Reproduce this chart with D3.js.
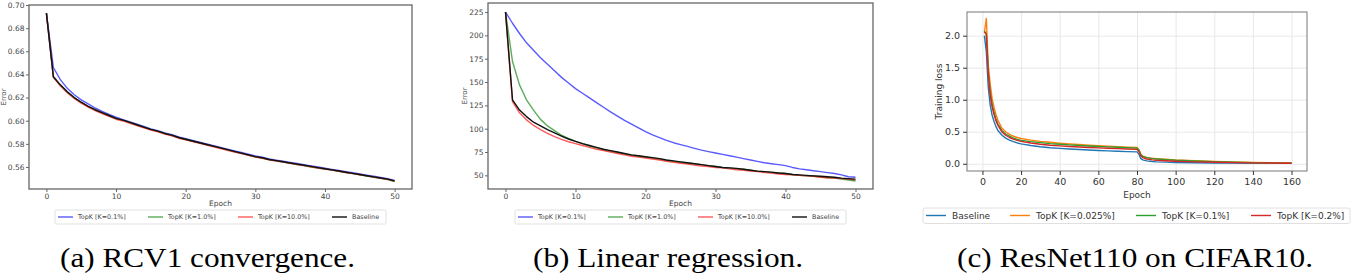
<!DOCTYPE html>
<html>
<head>
<meta charset="utf-8">
<script src="https://cdn.jsdelivr.net/npm/d3@7"></script>
<style>
  body { margin: 0; background: #fff; }
  svg { display: block; }
</style>
</head>
<body>
<div id="viz"></div>
<script>
// ---------- data ----------
// (a) RCV1 convergence, epochs 0..50
let epochsA = d3.range(0, 51);
let topk01A = [0.693,0.646,0.6355,0.628,0.6225,0.618,0.6145,0.611,0.608,0.6055,0.603,0.601,0.599,0.597,0.595,0.593,0.5915,0.5895,0.588,0.586,0.5845,0.583,0.5815,0.58,0.5785,0.577,0.5755,0.574,0.5725,0.571,0.5695,0.5685,0.567,0.566,0.565,0.564,0.563,0.562,0.561,0.56,0.559,0.558,0.557,0.556,0.555,0.554,0.553,0.552,0.551,0.55,0.5485];
let topk1A = [0.693,0.638,0.6308,0.6248,0.6198,0.6158,0.6123,0.6093,0.6068,0.6043,0.6018,0.6003,0.5983,0.5963,0.5943,0.5923,0.5908,0.5888,0.5873,0.5853,0.5838,0.5823,0.5808,0.5793,0.5778,0.5763,0.5748,0.5733,0.5718,0.5703,0.5688,0.5678,0.5663,0.5653,0.5643,0.5633,0.5622,0.5612,0.5600,0.5592,0.5583,0.5573,0.5563,0.5553,0.5543,0.5533,0.5522,0.5512,0.5502,0.5492,0.5475];
let topk10A = [0.693,0.6375,0.6302,0.6242,0.6192,0.6152,0.6117,0.6088,0.6062,0.6038,0.6013,0.5998,0.5978,0.5958,0.5938,0.5919,0.5904,0.5884,0.5869,0.5849,0.5835,0.582,0.5805,0.579,0.5775,0.576,0.5745,0.573,0.5716,0.5701,0.5687,0.5676,0.5662,0.5652,0.5642,0.5632,0.5622,0.5612,0.5602,0.5592,0.5583,0.5573,0.5563,0.5553,0.5543,0.5533,0.5523,0.5513,0.5503,0.5493,0.5478];
let baselineA = [0.693,0.638,0.631,0.625,0.620,0.616,0.6125,0.6095,0.607,0.6045,0.602,0.6005,0.5985,0.5965,0.5945,0.5925,0.591,0.589,0.5875,0.5855,0.584,0.5825,0.581,0.5795,0.578,0.5765,0.575,0.5735,0.572,0.5705,0.569,0.568,0.5665,0.5655,0.5645,0.5635,0.5625,0.5615,0.5605,0.5595,0.5585,0.5575,0.5565,0.5555,0.5545,0.5535,0.5525,0.5515,0.5505,0.5495,0.548];
let yTicksA = [0.56, 0.58, 0.60, 0.62, 0.64, 0.66, 0.68, 0.70];

// (b) Linear regression, epochs 0..50
let epochsB = d3.range(0, 51);
let topk01B = [225,213,202,192,184,176,169,162,155,149,143,138,133,128,123,118,113.5,109,105,101,97,93.5,90.5,87.5,85,83,81,79,77,75.5,74,72.5,71,69.5,68,66.5,65,63.5,62.5,61.5,60.5,58.5,57,56,55,54,53,52,50.5,48.5,48];
let topk1B = [225,172,147,131,120,110,103,98,93,89.5,86.5,84,81.5,79.5,77.5,76,74.5,73,71.5,70.5,69.5,68.5,67.5,66,65,64,63,62.5,61.5,60.5,59.5,58.5,58,57,56.5,55.5,54.5,54,53,52.5,52,51,50,49.5,49,48.5,47.5,47,46,45,44];
let topk10B = [225,129,117,109.5,103.5,99,95,91.5,88.5,86,84,82,80,78,76.5,75,73.5,72,70.5,69.5,68.5,67.5,66.5,65,64,63,62,61,60,59.5,58.5,58,57,56,55.5,54.5,54,53,52.5,51.5,51,50.5,50,49.5,49,48,47.5,47,46.5,46,45];
let baselineB = [225,131,120,113,107,103,99,95.5,92,89,86.5,84,82,80,78,76.5,75,73.5,72,71,70,69,68,66.5,65.5,64.5,63.5,62.5,61.5,60.5,59.5,58.5,58,57.5,56.5,55.5,54.5,54,53.5,52.5,52,51,50.5,50,49.5,49,48.5,48,47,46.5,46];
let yTicksB = [50, 75, 100, 125, 150, 175, 200, 225];

// (c) ResNet110 on CIFAR10
let epochsC = [1,2,3,4,5,6,7,8,10,12,14,16,18,20,25,30,35,40,45,50,55,60,65,70,75,80,81,82,83,85,88,90,95,100,110,120,130,140,150,160];
let baselineC = [2.00,1.75,1.20,0.92,0.76,0.66,0.58,0.52,0.45,0.40,0.37,0.345,0.325,0.31,0.285,0.265,0.25,0.24,0.23,0.222,0.215,0.208,0.202,0.196,0.19,0.185,0.15,0.08,0.06,0.045,0.035,0.03,0.025,0.02,0.015,0.012,0.01,0.008,0.007,0.006];
let topk0025C = [2.05,2.27,1.55,1.25,1.02,0.88,0.77,0.68,0.56,0.50,0.46,0.43,0.41,0.395,0.37,0.35,0.335,0.32,0.31,0.30,0.29,0.283,0.275,0.268,0.26,0.255,0.22,0.15,0.12,0.10,0.085,0.08,0.07,0.06,0.048,0.038,0.028,0.02,0.015,0.012];
let topk01C = [2.07,2.03,1.45,1.12,0.93,0.80,0.70,0.62,0.52,0.465,0.43,0.40,0.38,0.365,0.345,0.33,0.315,0.305,0.295,0.285,0.278,0.27,0.263,0.257,0.25,0.245,0.21,0.14,0.115,0.095,0.08,0.075,0.065,0.055,0.043,0.033,0.025,0.018,0.013,0.01];
let topk02C = [2.06,2.02,1.40,1.08,0.89,0.77,0.67,0.60,0.50,0.445,0.41,0.385,0.365,0.35,0.325,0.305,0.29,0.28,0.27,0.262,0.255,0.248,0.242,0.236,0.23,0.225,0.19,0.12,0.095,0.075,0.06,0.055,0.047,0.04,0.03,0.023,0.018,0.014,0.011,0.009];
let xTicksC = [0, 20, 40, 60, 80, 100, 120, 140, 160];
let yTicksC = [0.0, 0.5, 1.0, 1.5, 2.0];

let namesAB = ["TopK [K=0.1%]", "TopK [K=1.0%]", "TopK [K=10.0%]", "Baseline"];
let namesC = ["Baseline", "TopK [K=0.025%]", "TopK [K=0.1%]", "TopK [K=0.2%]"];
let captions = ["(a) RCV1 convergence.", "(b) Linear regression.", "(c) ResNet110 on CIFAR10."];

// ---------- setup ----------
let w = 1361;
let h = 275;
let colorsAB = ["rgba(0,0,255,0.65)", "rgba(0,128,0,0.65)", "rgba(255,0,0,0.65)", "#111"];
let colorsC = ["#1f77b4", "#ff7f0e", "#2ca02c", "#d62728"];
let sans = "DejaVu Sans, sans-serif";

let viz = d3.select("#viz").append("svg")
  .attr("width", w)
  .attr("height", h);

function zipSeries(xs, ys) {
  return xs.map((x, i) => ({x: x, y: ys[i]}));
}

// matplotlib-ish panels (a) and (b)
function drawMplPanel(opt) {
  let xScale = d3.scaleLinear().domain([-2.5, 52.5]).range([opt.left, opt.right]);
  let yScale = d3.scaleLinear().domain(opt.yDomain).range([opt.bottom, opt.top]);
  let g = viz.append("g");

  let lineMaker = d3.line().x(d => xScale(d.x)).y(d => yScale(d.y));
  opt.series.forEach((s, i) => {
    g.append("path")
      .attr("d", lineMaker(zipSeries(opt.epochs, s)))
      .attr("fill", "none")
      .attr("stroke", colorsAB[i])
      .attr("stroke-width", 1.4)
      .attr("stroke-linejoin", "round");
  });

  // frame
  g.append("rect")
    .attr("x", opt.left).attr("y", opt.top)
    .attr("width", opt.right - opt.left).attr("height", opt.bottom - opt.top)
    .attr("fill", "none").attr("stroke", "#666").attr("stroke-width", 1.3);

  let xAxis = d3.axisBottom(xScale).tickValues([0, 10, 20, 30, 40, 50]).tickSize(3).tickPadding(2).tickFormat(d3.format("d"));
  let xg = g.append("g").attr("transform", "translate(0," + opt.bottom + ")").call(xAxis);
  let yAxis = d3.axisLeft(yScale).tickValues(opt.yTicks).tickSize(3).tickPadding(1.5).tickFormat(opt.yFormat);
  let yg = g.append("g").attr("transform", "translate(" + opt.left + ",0)").call(yAxis);
  [xg, yg].forEach(a => {
    a.select(".domain").remove();
    a.selectAll("line").attr("stroke", "#666");
    a.selectAll("text").attr("fill", "#444").style("font-family", sans).style("font-size", "7.5px");
  });

  g.append("text")
    .attr("x", (opt.left + opt.right) / 2).attr("y", 205.5)
    .attr("text-anchor", "middle")
    .style("font-family", sans).style("font-size", "7.5px").attr("fill", "#444")
    .text("Epoch");
  g.append("text")
    .attr("transform", "translate(" + opt.yLabelX + "," + ((opt.top + opt.bottom) / 2) + ") rotate(-90)")
    .attr("text-anchor", "middle")
    .style("font-family", sans).style("font-size", "7px").attr("fill", "#444")
    .text("Error");

  // legend
  let lg = g.append("g");
  lg.append("rect")
    .attr("x", opt.legendX).attr("y", 210).attr("width", 331).attr("height", 14)
    .attr("rx", 1.5).attr("fill", "#fff").attr("stroke", "#d8d8d8").attr("stroke-width", 0.8);
  let offsets = [3, 93, 183, 277];
  namesAB.forEach((name, i) => {
    let x0 = opt.legendX + offsets[i];
    lg.append("line")
      .attr("x1", x0).attr("x2", x0 + 15).attr("y1", 217).attr("y2", 217)
      .attr("stroke", colorsAB[i]).attr("stroke-width", 1.4);
    lg.append("text")
      .attr("x", x0 + 20).attr("y", 219.3)
      .style("font-family", sans).style("font-size", "6.4px").attr("fill", "#444")
      .text(name);
  });
}

drawMplPanel({
  left: 29, right: 412, top: 5, bottom: 189,
  yDomain: [0.541, 0.700], yTicks: yTicksA, yFormat: d3.format(".2f"),
  epochs: epochsA, series: [topk01A, topk1A, topk10A, baselineA],
  yLabelX: 6, legendX: 55
});

drawMplPanel({
  left: 488, right: 873, top: 3, bottom: 189,
  yDomain: [35.4, 234.7], yTicks: yTicksB, yFormat: d3.format("d"),
  epochs: epochsB, series: [topk01B, topk1B, topk10B, baselineB],
  yLabelX: 467, legendX: 515
});

// seaborn-ish panel (c)
function drawPanelC() {
  let left = 967, right = 1307, top = 12, bottom = 171;
  let xScale = d3.scaleLinear().domain([-8, 168]).range([left, right]);
  let yScale = d3.scaleLinear().domain([-0.113, 2.37]).range([bottom, top]);
  let g = viz.append("g");

  // grid
  let gx = g.append("g").attr("transform", "translate(0," + bottom + ")")
    .call(d3.axisBottom(xScale).tickValues(xTicksC).tickSize(-(bottom - top)).tickFormat(""));
  let gy = g.append("g").attr("transform", "translate(" + left + ",0)")
    .call(d3.axisLeft(yScale).tickValues(yTicksC).tickSize(-(right - left)).tickFormat(""));
  [gx, gy].forEach(a => {
    a.select(".domain").remove();
    a.selectAll("line").attr("stroke", "#e3e3e3").attr("stroke-width", 0.8);
  });

  let lineMaker = d3.line().x(d => xScale(d.x)).y(d => yScale(d.y));
  [baselineC, topk0025C, topk01C, topk02C].forEach((s, i) => {
    g.append("path")
      .attr("d", lineMaker(zipSeries(epochsC, s)))
      .attr("fill", "none")
      .attr("stroke", colorsC[i])
      .attr("stroke-width", 1.4)
      .attr("stroke-linejoin", "round");
  });

  g.append("rect")
    .attr("x", left).attr("y", top).attr("width", right - left).attr("height", bottom - top)
    .attr("fill", "none").attr("stroke", "#777").attr("stroke-width", 1);

  let xg = g.append("g").attr("transform", "translate(0," + bottom + ")")
    .call(d3.axisBottom(xScale).tickValues(xTicksC).tickSize(4).tickPadding(3).tickFormat(d3.format("d")));
  let yg = g.append("g").attr("transform", "translate(" + left + ",0)")
    .call(d3.axisLeft(yScale).tickValues(yTicksC).tickSize(4).tickPadding(3).tickFormat(d3.format(".1f")));
  [xg, yg].forEach(a => {
    a.select(".domain").remove();
    a.selectAll("line").attr("stroke", "#333");
    a.selectAll("text").attr("fill", "#333").style("font-family", sans).style("font-size", "9.5px");
  });

  g.append("text")
    .attr("x", (left + right) / 2).attr("y", 198)
    .attr("text-anchor", "middle")
    .style("font-family", sans).style("font-size", "9px").attr("fill", "#333")
    .text("Epoch");
  g.append("text")
    .attr("transform", "translate(942," + ((top + bottom) / 2) + ") rotate(-90)")
    .attr("text-anchor", "middle")
    .style("font-family", sans).style("font-size", "9px").attr("fill", "#333")
    .text("Training loss");

  let lg = g.append("g");
  lg.append("rect")
    .attr("x", 923).attr("y", 208).attr("width", 427).attr("height", 15.5)
    .attr("rx", 2).attr("fill", "#fff").attr("stroke", "#d8d8d8").attr("stroke-width", 0.8);
  let lineStarts = [926, 1010, 1136, 1251];
  namesC.forEach((name, i) => {
    lg.append("line")
      .attr("x1", lineStarts[i]).attr("x2", lineStarts[i] + 20).attr("y1", 215.5).attr("y2", 215.5)
      .attr("stroke", colorsC[i]).attr("stroke-width", 1.4);
    lg.append("text")
      .attr("x", lineStarts[i] + 26).attr("y", 218.8)
      .style("font-family", sans).style("font-size", "9px").attr("fill", "#333")
      .text(name);
  });
}
drawPanelC();

// captions
let capCenters = [207.5, 668, 1135];
let capWidths = [295, 270, 356];
captions.forEach((c, i) => {
  viz.append("text")
    .attr("x", capCenters[i]).attr("y", 267)
    .attr("text-anchor", "middle")
    .attr("textLength", capWidths[i])
    .attr("lengthAdjust", "spacingAndGlyphs")
    .style("font-family", "Liberation Serif, Times New Roman, serif")
    .style("font-size", "27px")
    .attr("fill", "#000")
    .text(c);
});
</script>
</body>
</html>
